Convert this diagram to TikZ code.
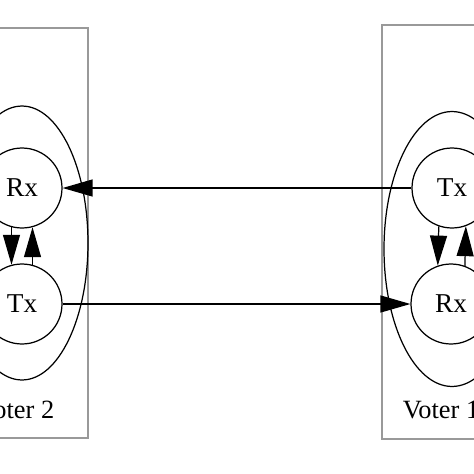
\documentclass[tikz,border=0pt]{standalone}
\usepackage{fontspec}
\setmainfont{Liberation Serif}
\usetikzlibrary{arrows.meta,calc}
\tikzset{
    port/.style={circle, draw, line width=0.7pt, minimum size=1.6cm, inner sep=0pt, font=\fontsize{15.5}{18}\selectfont},
    link/.style={line width=0.7pt, -{Triangle[length=0.6cm,width=0.34cm]}},
    cluster/.style={draw=black!40, line width=0.6pt},
    loop/.style={line width=0.7pt}
}

\begin{document}
\begin{tikzpicture}[x=0.02cm, y=-0.02cm]
\useasboundingbox (0,0) rectangle (474,474);
\clip (0,0) rectangle (474,474);
% voter boxes
\draw [cluster] (-60,28) rectangle (88,438);
\draw [cluster] (382,25) rectangle (540,439);
\node [anchor=base, font=\fontsize{15}{18}\selectfont] (lblB) at (16,418) {Voter 2};
\node [anchor=base, font=\fontsize{15}{18}\selectfont] (lblA) at (441,418) {Voter 1};
% outer loops
\draw [loop] (22,243) ellipse [x radius=1.32cm, y radius=2.74cm];
\draw [loop] (452,249) ellipse [x radius=1.36cm, y radius=2.75cm];

\node [port] (rxB) at (22,188) {Rx};
\node [port] (txB) at (22,304) {Tx};
\node [port] (txA) at (452,188) {Tx};
\node [port] (rxA) at (451,304) {Rx};

\draw [link] (txA.west) -- (rxB.east);
\draw [link] (txB.east) -- (rxA.west);

\draw [link] (rxB.255) -- (txB.105);
\draw [link] (txB.75) -- (rxB.285);
\draw [link] (txA.251) -- (rxA.109);
\draw [link] (rxA.70) -- (txA.290);
\end{tikzpicture}
\end{document}
